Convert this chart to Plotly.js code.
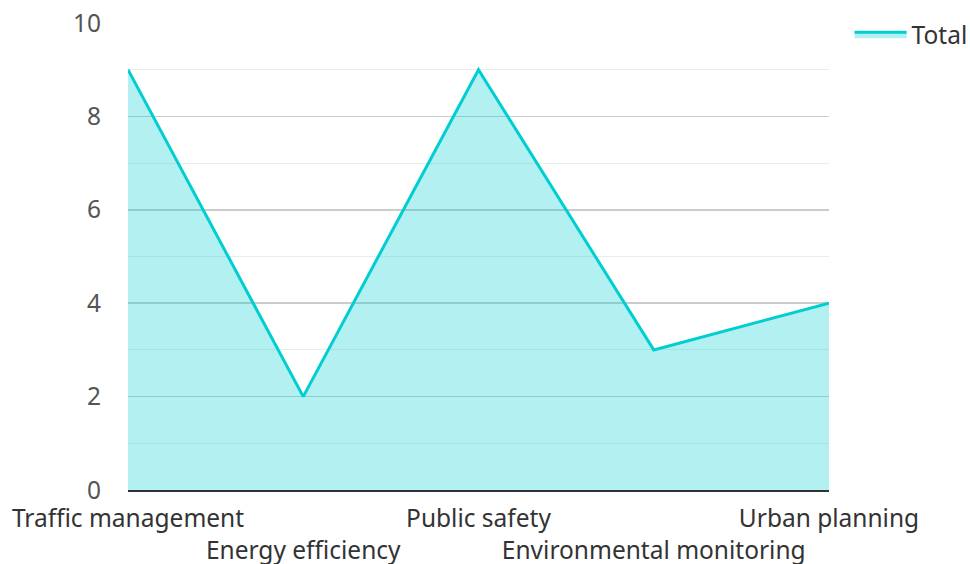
<!DOCTYPE html>
<html><head><meta charset="utf-8">
<script src="https://cdn.plot.ly/plotly-3.0.1.min.js"></script>
<style>html,body{margin:0;padding:0;background:#fff}#chart{width:970px;height:564px}</style>
</head><body><div id="chart"></div>
<script>
const categories = ["Traffic management", "Energy efficiency", "Public safety", "Environmental monitoring", "Urban planning"];
const totals = [9, 2, 9, 3, 4];
const seriesName = "Total";

const tickLabels = categories.map((c, i) => (i % 2 === 1 ? "<br>" + c : c));

const trace = {
  x: categories,
  y: totals,
  name: seriesName,
  type: "scatter",
  mode: "lines",
  fill: "tozeroy",
  fillcolor: "rgba(0,206,209,0.3)",
  line: {color: "#00CED1", width: 3},
  showlegend: true
};

// paper area: left 128 .. 970 (842px), top 0 .. 490 (490px)
const layout = {
  width: 970, height: 564,
  margin: {l: 128, r: 0, t: 0, b: 74, autoexpand: false},
  paper_bgcolor: "#fff", plot_bgcolor: "#fff",
  font: {family: "Noto Sans, sans-serif", size: 24.5, color: "#333"},
  showlegend: true,
  legend: {x: 0.857, y: 0.976, xanchor: "left", yanchor: "top", itemwidth: 52,
           font: {size: 24.5, color: "#333"}, bgcolor: "rgba(0,0,0,0)"},
  xaxis: {
    type: "category",
    domain: [0, 701 / 842],
    tickmode: "array", tickvals: categories, ticktext: tickLabels,
    showgrid: false, zeroline: false,
    showline: true, linecolor: "#333", linewidth: 2,
    ticks: "", tickangle: 0,
    ticklabelstandoff: 6,
    tickfont: {size: 24.5, color: "#333"},
    range: [0, categories.length - 1]
  },
  yaxis: {
    domain: [0, 467 / 490],
    range: [0, 10], dtick: 2, tick0: 0,
    showgrid: true, gridcolor: "#cccccc", gridwidth: 1.5,
    minor: {dtick: 1, showgrid: true, gridcolor: "#ebebeb", gridwidth: 1},
    zeroline: false, showline: false, ticks: "",
    ticklabelstandoff: 26,
    tickfont: {size: 24.5, color: "#555"}
  }
};

Plotly.newPlot("chart", [trace], layout, {displayModeBar: false, staticPlot: true});
</script></body></html>
